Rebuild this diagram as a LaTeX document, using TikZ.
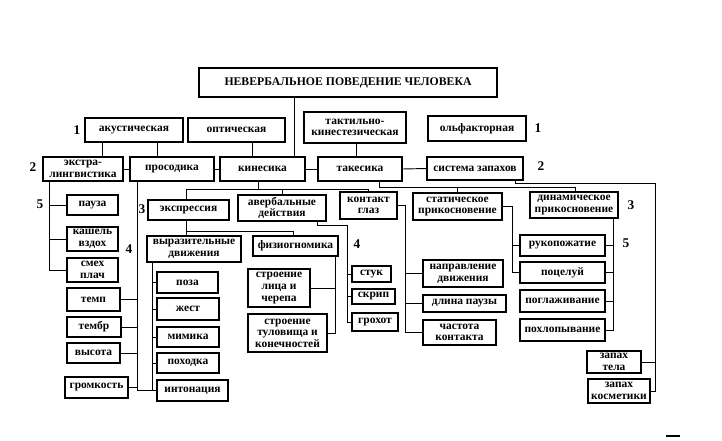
\documentclass[tikz,border=0pt]{standalone}
\usepackage{fontspec}
\setmainfont{Liberation Serif}
\newcommand\Bx[6]{%
 \pgfmathsetmacro\bcx{(#2+#4)/2}%
 \pgfmathsetmacro\bcy{(#3+#5)/2}%
 \pgfmathsetmacro\bw{(#4-#2)*0.75}%
 \pgfmathsetmacro\bh{(#5-#3)*0.75}%
 \node[bx,minimum width=\bw pt,minimum height=\bh pt] (#1) at (\bcx,\bcy) {#6};}
\begin{document}
\begin{tikzpicture}[x=0.75pt,y=-0.75pt,
  bx/.style={draw,line width=0.9pt,inner sep=0pt,align=center,
    font=\fontsize{8.6}{8.7}\selectfont\bfseries},
  ttl/.style={bx,font=\fontsize{8.8}{9}\selectfont\bfseries},
  num/.style={font=\fontsize{10}{10}\selectfont\bfseries,inner sep=0pt},
  ln/.style={line width=0.7pt}]
\useasboundingbox (0,0) rectangle (722,440);
% title
\pgfmathsetmacro\bw{(497-199)*0.75}\pgfmathsetmacro\bh{(97-68)*0.75}
\node[ttl,minimum width=\bw pt,minimum height=\bh pt] (title) at (348,82.5) {НЕВЕРБАЛЬНОЕ ПОВЕДЕНИЕ ЧЕЛОВЕКА};
% row 1
\Bx{akust}{85}{118}{183}{142}{акустическая}
\Bx{opt}{188}{118}{285}{142}{оптическая}
\Bx{takt}{304}{112}{406}{143}{тактильно-\\кинестезическая}
\Bx{olf}{428}{116}{526}{141}{ольфакторная}
% row 2
\Bx{ekstra}{43}{157}{123}{181}{экстра-\\лингвистика}
\Bx{pros}{130}{157}{214}{181}{просодика}
\Bx{kin}{220}{157}{305}{181}{кинесика}
\Bx{tak}{318}{157}{402}{181}{такесика}
\Bx{zap}{427}{157}{523}{180}{система запахов}
% extralinguistic
\Bx{pauza}{67}{195}{118}{215}{пауза}
\Bx{kash}{67}{227}{118}{251}{кашель\\вздох}
\Bx{smeh}{67}{258}{118}{282}{смех\\плач}
% prosodic
\Bx{temp}{67}{288}{120}{311}{темп}
\Bx{tembr}{67}{317}{121}{337}{тембр}
\Bx{vys}{67}{343}{120}{363}{высота}
\Bx{grom}{65}{377}{128}{398}{громкость}
\Bx{inton}{157}{380}{228}{401}{интонация}
% kinesic
\Bx{ekspr}{148}{200}{229}{220}{экспрессия}
\Bx{averb}{238}{195}{326}{221}{авербальные\\действия}
\Bx{kont}{340}{192}{397}{219}{контакт\\глаз}
\Bx{vyraz}{147}{236}{241}{262}{выразительные\\движения}
\Bx{fiz}{253}{236}{338}{256}{физиогномика}
\Bx{poza}{157}{272}{218}{293}{поза}
\Bx{zhest}{157}{298}{219}{320}{жест}
\Bx{mim}{157}{327}{219}{347}{мимика}
\Bx{poh}{157}{353}{219}{373}{походка}
\Bx{litsa}{248}{269}{310}{307}{строение\\лица и\\черепа}
\Bx{tulov}{248}{314}{327}{352}{строение\\туловища и\\конечностей}
\Bx{stuk}{352}{266}{391}{282}{стук}
\Bx{skrip}{352}{289}{395}{304}{скрип}
\Bx{groh}{352}{313}{398}{331}{грохот}
\Bx{napr}{423}{260}{503}{287}{направление\\движения}
\Bx{dlina}{423}{295}{506}{312}{длина паузы}
\Bx{chast}{423}{320}{496}{345}{частота\\контакта}
% takesic
\Bx{stat}{413}{193}{502}{220}{статическое\\прикосновение}
\Bx{din}{530}{192}{618}{218}{динамическое\\прикосновение}
\Bx{ruk}{520}{235}{605}{256}{рукопожатие}
\Bx{poc}{520}{262}{605}{283}{поцелуй}
\Bx{pogl}{520}{290}{605}{312}{поглаживание}
\Bx{pohl}{520}{319}{605}{341}{похлопывание}
% olfactory
\Bx{ztel}{587}{351}{641}{373}{запах\\тела}
\Bx{zkos}{588}{379}{650}{403}{запах\\косметики}
% numbers
\node[num] (n1a) at (77,130) {1};
\node[num] (n1b) at (538,128) {1};
\node[num] (n2a) at (33,167) {2};
\node[num] (n2b) at (541,166) {2};
\node[num] (n5a) at (40,204) {5};
\node[num] (n3a) at (142,209) {3};
\node[num] (n4a) at (129,249) {4};
\node[num] (n4b) at (357,244) {4};
\node[num] (n3b) at (631,205) {3};
\node[num] (n5b) at (626,243) {5};
% reference coordinates
\coordinate (xT) at (294,0);
\coordinate (xa1) at (102,0);
\coordinate (xa2) at (157,0);
\coordinate (xo) at (252,0);
\coordinate (xt) at (356,0);
\coordinate (xE) at (49,0);
\coordinate (xP) at (137,0);
\coordinate (xV) at (152,0);
\coordinate (xF) at (335,0);
\coordinate (xA) at (347,0);
\coordinate (xK) at (405,0);
\coordinate (xS) at (512,0);
\coordinate (xD) at (613,0);
\coordinate (xZ) at (655,0);
\coordinate (kb) at (258,189);
\coordinate (kbl) at (186,189);
\coordinate (eb) at (186,231);
\coordinate (xFz) at (293,0);
\coordinate (ab) at (317,225);
\coordinate (tb) at (379,187);
\coordinate (xDn) at (575,0);
\coordinate (zb) at (515,183);
% connectors
\draw[ln] (title.south -| xT) -- (kin.north -| xT);
\draw[ln] (akust.south -| xa1) -- (ekstra.north -| xa1);
\draw[ln] (akust.south -| xa2) -- (pros.north -| xa2);
\draw[ln] (opt.south -| xo) -- (kin.north -| xo);
\draw[ln] (takt.south -| xt) -- (tak.north -| xt);
\draw[ln] (ekstra.east) -- (pros.west);
\draw[ln] (pros.east) -- (kin.west);
\draw[ln] (kin.east) -- (tak.west);
\draw[ln] (tak.east) -- (zap.west);
% extralinguistic bus
\draw[ln] (ekstra.south -| xE) -- (smeh.west -| xE) -- (smeh.west);
\draw[ln] (pauza.west) -- (pauza.west -| xE);
\draw[ln] (kash.west) -- (kash.west -| xE);
% prosodic bus
\draw[ln] (pros.south -| xP) -- (inton.west -| xP) -- (inton.west);
\draw[ln] (temp.east) -- (temp.east -| xP);
\draw[ln] (tembr.east) -- (tembr.east -| xP);
\draw[ln] (vys.east) -- (vys.east -| xP);
\draw[ln] (grom.east) -- (grom.east -| xP);
% kinesic bus
\draw[ln] (kin.south -| kb) -- (kb);
\draw[ln] (ekspr.north -| kbl) -- (kbl) -- (kbl -| kont.north) -- (kont.north);
\draw[ln] (averb.north) -- (averb.north |- kb);
\draw[ln] (ekspr.south -| eb) -- (vyraz.north -| eb);
\draw[ln] (eb) -- (eb -| xFz) -- (fiz.north -| xFz);
% expressive movements
\draw[ln] (vyraz.south -| xV) -- (inton.west -| xV);
\draw[ln] (poza.west) -- (poza.west -| xV);
\draw[ln] (zhest.west) -- (zhest.west -| xV);
\draw[ln] (mim.west) -- (mim.west -| xV);
\draw[ln] (poh.west) -- (poh.west -| xV);
% physiognomy
\draw[ln] (fiz.south -| xF) -- (tulov.east -| xF) -- (tulov.east);
\draw[ln] (litsa.east) -- (litsa.east -| xF);
% non-verbal actions
\draw[ln] (averb.south -| ab) -- (ab) -- (ab -| xA) -- (groh.west -| xA) -- (groh.west);
\draw[ln] (stuk.west) -- (stuk.west -| xA);
\draw[ln] (skrip.west) -- (skrip.west -| xA);
% eye contact
\draw[ln] (kont.east) -- (kont.east -| xK) -- (chast.west -| xK) -- (chast.west);
\draw[ln] (napr.west) -- (napr.west -| xK);
\draw[ln] (dlina.west) -- (dlina.west -| xK);
% takesic bus
\draw[ln] (tak.south -| tb) -- (tb) -- (tb -| xDn) -- (din.north -| xDn);
\draw[ln] (stat.north) -- (stat.north |- tb);
\draw[ln] (stat.east) -- (stat.east -| xS) -- (poc.west -| xS) -- (poc.west);
\draw[ln] (ruk.west) -- (ruk.west -| xS);
\draw[ln] (din.south -| xD) -- (pohl.east -| xD) -- (pohl.east);
\draw[ln] (ruk.east) -- (ruk.east -| xD);
\draw[ln] (poc.east) -- (poc.east -| xD);
\draw[ln] (pogl.east) -- (pogl.east -| xD);
% olfactory bus
\draw[ln] (zap.south -| zb) -- (zb) -- (zb -| xZ) -- (zkos.east -| xZ) -- (zkos.east);
\draw[ln] (ztel.east) -- (ztel.east -| xZ);
% stray mark
\coordinate (m1) at (666,436);
\coordinate (m2) at (680,436);
\draw[line width=1.4pt] (m1) -- (m2);
\end{tikzpicture}
\end{document}
